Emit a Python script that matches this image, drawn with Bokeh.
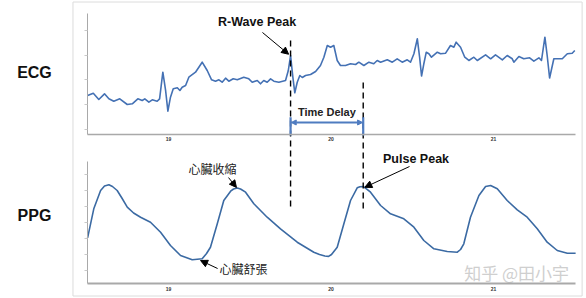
from bokeh.plotting import figure
from bokeh.models import Range1d, LinearAxis, FixedTicker, Arrow, NormalHead
from bokeh.core.properties import value
from bokeh.embed import file_html
from bokeh.resources import INLINE

# ---------------- data ----------------
# ECG trace: time (s) and amplitude (arbitrary units)
ecg_t = [18.502, 18.537, 18.571, 18.606, 18.633, 18.663, 18.700, 18.746, 18.777, 18.811,
         18.838, 18.854, 18.879, 18.900, 18.930, 18.945, 18.965, 18.982, 18.996, 19.012,
         19.029, 19.054, 19.070, 19.084, 19.105, 19.125, 19.166, 19.207, 19.238, 19.265,
         19.289, 19.310, 19.330, 19.351, 19.371, 19.398, 19.423, 19.463, 19.494, 19.515,
         19.546, 19.566, 19.586, 19.607, 19.628, 19.648, 19.679, 19.720, 19.737, 19.751,
         19.765, 19.777, 19.792, 19.808, 19.823, 19.843, 19.874, 19.905, 19.935, 19.956,
         19.977, 19.997, 20.017, 20.038, 20.058, 20.089, 20.120, 20.151, 20.171, 20.202,
         20.233, 20.263, 20.284, 20.305, 20.346, 20.377, 20.407, 20.438, 20.469, 20.489,
         20.510, 20.531, 20.545, 20.557, 20.571, 20.586, 20.602, 20.618, 20.654, 20.674,
         20.705, 20.735, 20.756, 20.770, 20.797, 20.823, 20.848, 20.879, 20.900, 20.951,
         20.982, 21.012, 21.054, 21.084, 21.115, 21.125, 21.156, 21.186, 21.222, 21.248,
         21.279, 21.295, 21.316, 21.330, 21.345, 21.371, 21.423, 21.454, 21.484, 21.500]
ecg_v = [1.374, 1.467, 1.212, 1.442, 1.240, 1.143, 1.240, 1.010, 1.038, 1.240,
         1.172, 1.240, 1.103, 1.200, 1.143, 1.240, 2.315, 1.576, 0.739, 1.305,
         1.644, 1.685, 1.576, 1.709, 1.778, 2.113, 2.315, 2.719, 2.384, 2.008,
         1.952, 2.008, 1.911, 2.073, 1.952, 2.048, 2.008, 2.113, 2.048, 1.911,
         1.980, 1.846, 1.980, 1.911, 2.048, 1.952, 1.911, 1.980, 2.384, 2.990,
         2.113, 1.483, 1.911, 2.182, 2.101, 2.182, 2.222, 2.343, 2.586, 2.921,
         3.394, 3.325, 3.394, 2.788, 2.586, 2.586, 2.655, 2.626, 2.719, 2.586,
         2.719, 2.655, 2.788, 2.719, 2.816, 2.719, 2.857, 2.719, 2.816, 2.719,
         3.059, 3.665, 2.921, 2.162, 2.655, 3.123, 3.059, 2.921, 3.123, 3.059,
         3.083, 3.394, 3.325, 3.527, 3.325, 2.921, 2.788, 2.921, 2.788, 3.018,
         2.857, 3.018, 2.816, 2.990, 2.857, 2.719, 2.949, 2.857, 2.897, 2.760,
         2.897, 2.788, 3.729, 2.990, 2.081, 2.857, 2.857, 3.059, 3.083, 3.192]

# PPG trace: time (s) and amplitude (arbitrary units)
ppg_t = [18.502, 18.540, 18.582, 18.606, 18.633, 18.655, 18.684, 18.711, 18.746, 18.785,
         18.828, 18.889, 18.951, 19.012, 19.074, 19.146, 19.207, 19.234, 19.258, 19.300,
         19.340, 19.382, 19.400, 19.423, 19.443, 19.474, 19.525, 19.607, 19.689, 19.792,
         19.894, 19.929, 19.962, 19.985, 20.003, 20.038, 20.079, 20.120, 20.161, 20.178,
         20.198, 20.218, 20.243, 20.305, 20.366, 20.448, 20.510, 20.571, 20.633, 20.715,
         20.777, 20.797, 20.817, 20.858, 20.910, 20.951, 20.982, 21.023, 21.084, 21.146,
         21.207, 21.269, 21.330, 21.392, 21.454, 21.505]
ppg_v = [2.044, 3.856, 5.000, 5.281, 5.356, 5.250, 5.000, 4.563, 3.956, 3.594,
         3.331, 3.019, 2.394, 1.563, 0.938, 0.669, 0.731, 1.063, 1.456, 2.919,
         4.375, 4.956, 5.094, 5.156, 5.094, 4.894, 4.169, 3.331, 2.606, 1.769,
         1.144, 1.000, 0.906, 0.880, 1.000, 1.456, 2.919, 4.375, 5.169, 5.238,
         5.250, 5.106, 4.894, 4.063, 3.544, 3.231, 2.706, 1.875, 1.356, 1.188,
         1.144, 1.313, 1.669, 3.331, 4.688, 5.250, 5.313, 5.106, 4.375, 3.794,
         3.331, 2.606, 1.769, 1.250, 1.081, 1.081]

x_ticks = [19, 20, 21]
ecg_y_ticks = [0, 1, 2, 3, 4]
ppg_y_ticks = [0, 1, 2, 3, 4, 5, 6]

panel_labels = ["ECG", "PPG"]
ecg_annotation = "R-Wave Peak"
ppg_annotation = "Pulse Peak"
delay_label = "Time Delay"
systole_label = "心臟收縮"
diastole_label = "心臟舒張"
watermark = "知乎 @田小宇"

# ---------------- figure ----------------
p = figure(width=586, height=298, output_backend="svg", toolbar_location=None,
           x_axis_type=None, y_axis_type=None,
           x_range=Range1d(17.966, 21.572), y_range=Range1d(-6.828, 5.212),
           min_border=0, outline_line_color=None,
           background_fill_color="white", border_fill_color="white")
p.extra_y_ranges = {"ppg": Range1d(-1.75, 16.875)}

AX = "#a9a9a9"
TK = "#c9c9c9"

def style_x(ax, w):
    ax.axis_line_color = AX
    ax.axis_line_width = w
    ax.major_tick_in = 0
    ax.major_tick_out = 0
    ax.minor_tick_out = 0
    ax.minor_tick_in = 0
    ax.major_label_text_font_size = "5px"
    ax.major_label_text_font_style = "bold"
    ax.major_label_text_color = "#333333"
    ax.major_label_text_font = "Liberation Sans"
    ax.major_label_standoff = 3

def style_y(ax):
    ax.axis_line_color = AX
    ax.axis_line_width = 1
    ax.major_tick_in = 0
    ax.major_tick_out = 3
    ax.major_tick_line_color = TK
    ax.minor_tick_out = 0
    ax.minor_tick_in = 0
    ax.major_label_text_color = None

ecg_x = LinearAxis(fixed_location=-0.2, bounds=(18.5, 21.505), ticker=FixedTicker(ticks=x_ticks))
style_x(ecg_x, 1.5)
p.add_layout(ecg_x, "below")
ppg_x = LinearAxis(y_range_name="ppg", fixed_location=-0.8125, bounds=(18.5, 21.505),
                   ticker=FixedTicker(ticks=x_ticks))
style_x(ppg_x, 2)
p.add_layout(ppg_x, "below")
ecg_y = LinearAxis(fixed_location=18.5, bounds=(-0.2, 4.69), ticker=FixedTicker(ticks=ecg_y_ticks))
style_y(ecg_y)
p.add_layout(ecg_y, "left")
ppg_y = LinearAxis(y_range_name="ppg", fixed_location=18.5, bounds=(-0.8125, 6.8125),
                   ticker=FixedTicker(ticks=ppg_y_ticks))
style_y(ppg_y)
p.add_layout(ppg_y, "left")

# outer light frame
p.quad(left=[18.412], right=[21.545], bottom=[-1.594], top=[16.78], y_range_name="ppg",
       fill_color=None, line_color="#dcdcdc", line_width=1)

# traces
p.line(ecg_t, ecg_v, line_color="#4471b4", line_width=1.6, line_join="round")
p.line(ppg_t, ppg_v, y_range_name="ppg", line_color="#3b6aa3", line_width=1.6,
       line_join="round")

# peaks from the data
i_r = max((i for i, t in enumerate(ecg_t) if 19.6 < t < 19.85), key=lambda i: ecg_v[i])
i_p = max((i for i, t in enumerate(ppg_t) if 20.0 < t < 20.4), key=lambda i: ppg_v[i])
t_r, v_r = ecg_t[i_r], ecg_v[i_r]
t_p, v_p = ppg_t[i_p], ppg_v[i_p]

# dashed markers (in ECG units)
p.segment(x0=[t_r, t_p], y0=[3.6, 1.9], x1=[t_r, t_p], y1=[-3.19, -3.19],
          line_color="black", line_width=1.4, line_dash="6 4")

# time-delay bracket
BL = "#4f7cc0"
p.segment(x0=[t_r, t_p], y0=[0.49, 0.49], x1=[t_r, t_p], y1=[-0.24, -0.24],
          line_color=BL, line_width=2.2)
p.add_layout(Arrow(start=NormalHead(size=5, fill_color=BL, line_color=BL),
                   end=NormalHead(size=5, fill_color=BL, line_color=BL),
                   x_start=t_r + 0.004, y_start=0.283, x_end=t_p - 0.004, y_end=0.283,
                   line_color=BL, line_width=2))

# annotation arrows
def arrow(x0, y0, x1, y1, rng=None):
    kw = {"y_range_name": rng} if rng else {}
    p.add_layout(Arrow(end=NormalHead(size=7, fill_color="black", line_color="black"),
                       x_start=x0, y_start=y0, x_end=x1, y_end=y1,
                       line_color="black", line_width=1, **kw))

arrow(19.578, 3.92, t_r - 0.012, v_r + 0.05)
arrow(20.483, 6.5, t_p + 0.01, v_p - 0.05, "ppg")
arrow(19.369, 5.81, 19.418, 5.19, "ppg")
arrow(19.302, 0.125, 19.197, 0.625, "ppg")

# texts
def txt(x, y, s, size, font, style="normal", color="#111111", rng=None):
    kw = {"y_range_name": rng} if rng else {}
    p.text(x=[x], y=[y], text=[s], text_font=value(font), text_font_size=value(size),
           text_font_style=style, text_color=color, text_align="center",
           text_baseline="middle", **kw)

txt(18.175, 2.303, panel_labels[0], "16px", "Liberation Sans", "bold")
txt(18.175, 3.4375, panel_labels[1], "16px", "Liberation Sans", "bold", rng="ppg")
txt(19.545, 4.36, ecg_annotation, "12.5px", "Liberation Sans", "bold")
txt(20.523, 6.94, ppg_annotation, "12.5px", "Liberation Sans", "bold", rng="ppg")
txt((t_r + t_p) / 2, 0.70, delay_label, "11px", "Liberation Sans", "bold", color="#222222")
txt(19.271, 6.406, systole_label, "12px", "Noto Sans CJK TC", color="#222222", rng="ppg")
txt(19.462, 0.125, diastole_label, "12px", "Noto Sans CJK TC", color="#222222", rng="ppg")
txt(21.142, -0.125, watermark, "17px", "Noto Sans CJK SC", color="#cfcfcf", rng="ppg")

open("out.html", "w").write(file_html(p, INLINE))
